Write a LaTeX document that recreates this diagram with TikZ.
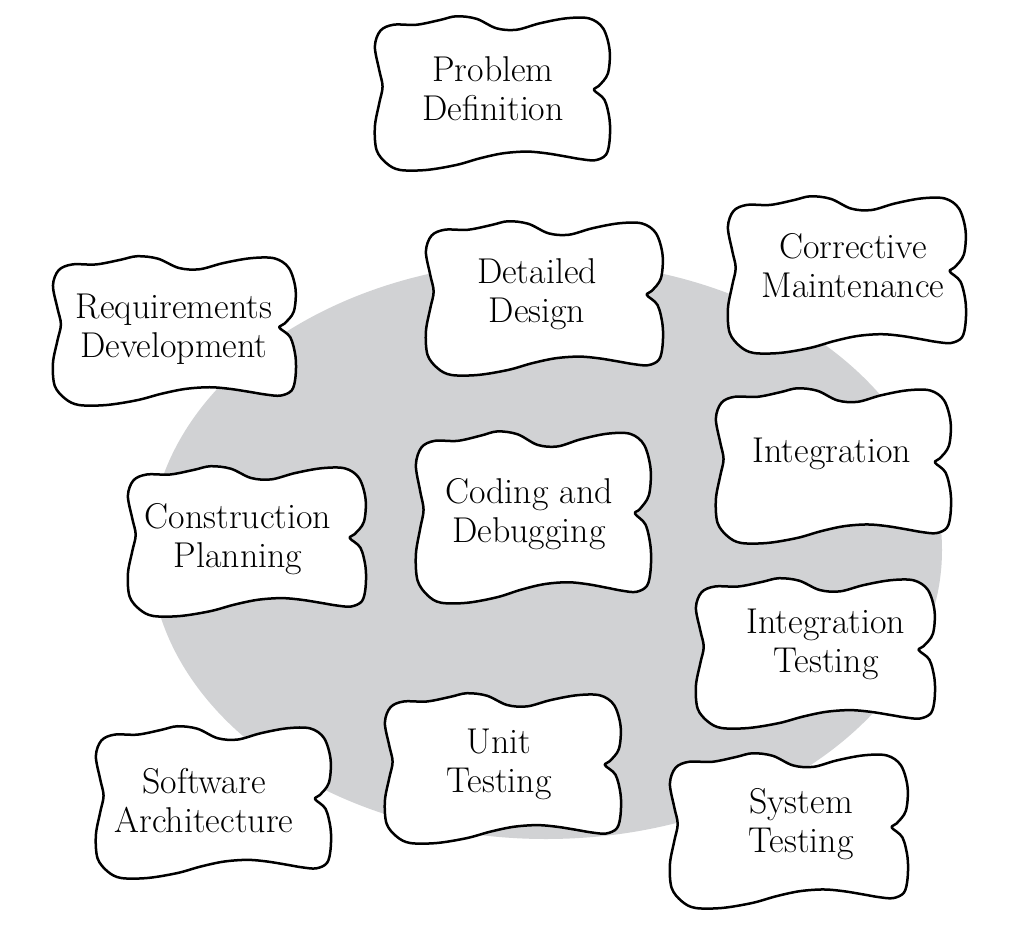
\documentclass[tikz,border=0pt]{standalone}
\begin{document}
\begin{tikzpicture}[x=1bp,y=-1bp,
  blobline/.style={draw=black,fill=white,line width=2.5bp,line join=round},
  blobtext/.style={align=center,inner sep=0pt,font=\fontsize{36}{40}\selectfont,text=black},
  backoval/.style={fill=ovalgray,draw=none}]
\definecolor{ovalgray}{RGB}{209,210,212}
\useasboundingbox (0,0) rectangle (1020,932);
\fill[white] (0,0) rectangle (1020,932);
\newcommand{\blobat}[4]{%
  \begin{scope}[shift={(#1,#2)},xscale=#3,yscale=#4]
  \draw[blobline] plot[smooth cycle,tension=0.55] coordinates {
   (0.012,0.20) (0.035,0.10) (0.09,0.062) (0.186,0.062) (0.283,0.032)
   (0.352,0.008) (0.435,0.024) (0.519,0.085) (0.602,0.094) (0.699,0.053)
   (0.81,0.021) (0.905,0.022) (0.963,0.085) (0.99,0.223) (0.983,0.372)
   (0.945,0.452) (0.925,0.478) (0.969,0.541) (0.99,0.669) (0.99,0.80)
   (0.975,0.89) (0.93,0.925) (0.87,0.918) (0.81,0.902) (0.727,0.881)
   (0.644,0.87) (0.546,0.881) (0.449,0.913) (0.352,0.955) (0.227,0.987)
   (0.117,0.987) (0.061,0.945) (0.019,0.86) (0.012,0.711) (0.03,0.563)
   (0.044,0.456) (0.03,0.35)};
  \end{scope}}
% background oval
\path[backoval] (546,550) ellipse [x radius=396, y radius=289];
% blobs
\blobat{372}{15}{240}{157}
\blobat{50}{255}{248}{152}
\blobat{423}{220}{242}{157}
\blobat{725}{195}{243}{160}
\blobat{713}{387}{240}{158}
\blobat{125}{465}{243}{153}
\blobat{413}{430}{240}{175}
\blobat{693}{577}{244}{153}
\blobat{93}{725}{240}{155}
\blobat{382}{692}{241}{153}
\blobat{667}{752}{243}{158}
% labels
\node[blobtext] (pd) at (493,93) {\strut Problem\\\strut Definition};
\node[blobtext] (rd) at (174,330) {\strut Requirements\\\strut Development};
\node[blobtext] (dd) at (537,295) {\strut Detailed\\\strut Design};
\node[blobtext] (cm) at (853,270) {\strut Corrective\\\strut Maintenance};
\node[blobtext] (in) at (832,455) {\strut Integration};
\node[blobtext] (cp) at (238,540) {\strut Construction\\\strut Planning};
\node[blobtext] (cd) at (529,515) {\strut Coding and\\\strut Debugging};
\node[blobtext] (it) at (826,645) {\strut Integration\\\strut Testing};
\node[blobtext] (sa) at (204,805) {\strut Software\\\strut Architecture};
\node[blobtext] (ut) at (499,765) {\strut Unit\\\strut Testing};
\node[blobtext] (st) at (801,825) {\strut System\\\strut Testing};
\end{tikzpicture}
\end{document}
